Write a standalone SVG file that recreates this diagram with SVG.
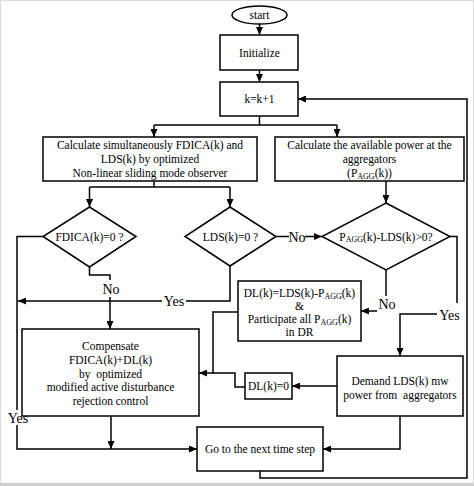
<svg xmlns="http://www.w3.org/2000/svg" width="474" height="486" viewBox="0 0 474 486">
<style>
.n{fill:#fff;stroke:#000;stroke-width:1.5}
.c{fill:none;stroke:#000;stroke-width:1.5}
text{font-family:"Liberation Serif","Times New Roman",serif;font-size:11.5px;fill:#000;text-anchor:middle}
.l{font-size:14px}
.s{font-size:8px}
</style>
<defs>
<marker id="a" markerUnits="userSpaceOnUse" markerWidth="8" markerHeight="7" refX="8" refY="3.5" orient="auto">
<path d="M0,0 L8,3.5 L0,7 z" fill="#000"/>
</marker>
</defs>
<rect x="0" y="0" width="474" height="486" fill="#fff"/>
<rect x="0.5" y="0.5" width="473" height="485" fill="none" stroke="#dcdcdc"/>
<rect x="0" y="483" width="474" height="3" fill="#cfcfcf"/>

<g id="connectors">
<path class="c" d="M259.5,24 V35" marker-end="url(#a)"/>
<path class="c" d="M259.5,70 V82" marker-end="url(#a)"/>
<path class="c" d="M259.5,116 V125 M154,125 H337"/>
<path class="c" d="M154,125 V137" marker-end="url(#a)"/>
<path class="c" d="M337,125 V137" marker-end="url(#a)"/>
<path class="c" d="M154,181 V187 M89.5,187 H230"/>
<path class="c" d="M89.5,187 V207" marker-end="url(#a)"/>
<path class="c" d="M230,187 V207" marker-end="url(#a)"/>
<path class="c" d="M386,181 V203" marker-end="url(#a)"/>
<path class="c" d="M276,236.5 H289"/>
<path class="c" d="M305,236.5 H322" marker-end="url(#a)"/>
<path class="c" d="M89.5,267 V275 H110 V280"/>
<path class="c" d="M110,297 V329" marker-end="url(#a)"/>
<path class="c" d="M43,236.5 H17 V449 H197" marker-end="url(#a)"/>
<path class="c" d="M230,266 V301 H186"/>
<path class="c" d="M162,301 H18" marker-end="url(#a)"/>
<path class="c" d="M386,270 V296"/>
<path class="c" d="M377,311 H361" marker-end="url(#a)"/>
<path class="c" d="M450,236.5 H457 V303"/>
<path class="c" d="M437,314 H400 V356" marker-end="url(#a)"/>
<path class="c" d="M337,386 H292" marker-end="url(#a)"/>
<path class="c" d="M238,312 H213 V373 H199" marker-end="url(#a)"/>
<path class="c" d="M245,387 H235 V373 H213"/>
<path class="c" d="M111,416 V449" marker-end="url(#a)"/>
<path class="c" d="M400,416 V449 H323" marker-end="url(#a)"/>
<path class="c" d="M260,471 V478 H467 V99 H298" marker-end="url(#a)"/>
<rect x="7" y="410" width="22" height="15" fill="#fff"/>
<text class="l" x="297" y="241.5">No</text>
<text class="l" x="111" y="294">No</text>
<text class="l" x="174" y="306">Yes</text>
<text class="l" x="18" y="423">Yes</text>
<text class="l" x="387" y="309">No</text>
<text class="l" x="449.5" y="320">Yes</text>
</g>

<g id="start">
<ellipse class="n" cx="259.5" cy="15" rx="27.5" ry="9"/>
<text x="259.5" y="19">start</text>
</g>
<g id="initialize">
<rect class="n" x="220" y="35" width="78" height="35"/>
<text x="259.5" y="56.5">Initialize</text>
</g>
<g id="increment">
<rect class="n" x="220" y="82" width="78" height="34"/>
<text x="259.5" y="103">k=k+1</text>
</g>
<g id="calc-observer">
<rect class="n" x="43" y="137" width="214" height="44"/>
<text x="150" y="149">Calculate simultaneously FDICA(k) and</text>
<text x="150" y="163">LDS(k) by optimized</text>
<text x="150" y="177">Non-linear sliding mode observer</text>
</g>
<g id="calc-power">
<rect class="n" x="275" y="137" width="189" height="44"/>
<text x="369.5" y="149">Calculate the available power at the</text>
<text x="369.5" y="163">aggregators</text>
<text x="369.5" y="177">(P<tspan class="s" dy="1.5">AGG</tspan><tspan dy="-1.5">(k))</tspan></text>
</g>
<g id="fdica-check">
<polygon class="n" points="89.5,207 136,236.5 89.5,267 43,236.5"/>
<text x="89.5" y="240.5">FDICA(k)=0 ?</text>
</g>
<g id="lds-check">
<polygon class="n" points="230,207 276,236.5 230,266 185,236.5"/>
<text x="230.5" y="240.5">LDS(k)=0 ?</text>
</g>
<g id="power-check">
<polygon class="n" points="386,203 450,236.5 386,270 322,236.5"/>
<text x="386" y="240.5">P<tspan class="s" dy="1.5">AGG</tspan><tspan dy="-1.5">(k)-LDS(k)&gt;0?</tspan></text>
</g>
<g id="dl-participate">
<rect class="n" x="238" y="281" width="123" height="60"/>
<text x="299.5" y="297">DL(k)=LDS(k)-P<tspan class="s" dy="1.5">AGG</tspan><tspan dy="-1.5">(k)</tspan></text>
<text x="299.5" y="310">&amp;</text>
<text x="299.5" y="323">Participate all P<tspan class="s" dy="1.5">AGG</tspan><tspan dy="-1.5">(k)</tspan></text>
<text x="299.5" y="336">in DR</text>
</g>
<g id="dl-zero">
<rect class="n" x="245" y="373" width="47" height="26"/>
<text x="268.5" y="390">DL(k)=0</text>
</g>
<g id="compensate">
<rect class="n" x="22" y="329" width="177" height="87"/>
<text x="110.5" y="350">Compensate</text>
<text x="110.5" y="364">FDICA(k)+DL(k)</text>
<text x="110.5" y="377.5" xml:space="preserve">by  optimized</text>
<text x="110.5" y="391">modified active disturbance</text>
<text x="110.5" y="404.5">rejection control</text>
</g>
<g id="demand">
<rect class="n" x="337" y="356" width="126" height="60"/>
<text x="400" y="385">Demand LDS(k) mw</text>
<text x="400" y="398.5" xml:space="preserve">power from  aggregators</text>
</g>
<g id="next-step">
<rect class="n" x="197" y="427" width="126" height="44"/>
<text x="260" y="453">Go to the next time step</text>
</g>
</svg>
